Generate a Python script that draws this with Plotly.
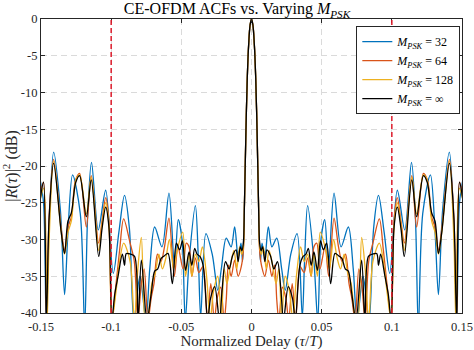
import plotly.graph_objects as go

# ---------------- data ----------------
series_names = ["<i>M</i><sub><i>PSK</i></sub> = 32",
                "<i>M</i><sub><i>PSK</i></sub> = 64",
                "<i>M</i><sub><i>PSK</i></sub> = 128",
                "<i>M</i><sub><i>PSK</i></sub> = ∞"]

m32_delay = [-0.1505, -0.1482, -0.1462, -0.1442, -0.141, -0.1362, -0.1332, -0.1308, -0.1275, -0.122,
             -0.1189, -0.1168, -0.114, -0.1092, -0.1039, -0.0985, -0.0945, -0.0905, -0.087, -0.0838,
             -0.0795, -0.0752, -0.0725, -0.069, -0.0638, -0.0588, -0.0548, -0.0522, -0.0495, -0.0472,
             -0.0445, -0.040, -0.0378, -0.0362, -0.0325, -0.028, -0.024, -0.0215, -0.018, -0.0145,
             -0.012, -0.0095, -0.0075, -0.0064, -0.0058, -0.005, -0.004, -0.003, -0.002, -0.001,
             0, 0.001, 0.002, 0.003, 0.004, 0.005, 0.0058, 0.0064, 0.0075, 0.0095,
             0.012, 0.0145, 0.018, 0.0215, 0.024, 0.028, 0.0325, 0.0362, 0.0378, 0.040,
             0.0445, 0.0472, 0.0495, 0.0522, 0.0548, 0.0588, 0.0638, 0.069, 0.0725, 0.0752,
             0.0795, 0.0838, 0.087, 0.0905, 0.0945, 0.0985, 0.1039, 0.1092, 0.114, 0.1168,
             0.1189, 0.122, 0.1275, 0.1308, 0.1332, 0.1362, 0.141, 0.1442, 0.1462, 0.1482, 0.1505]
m32_db = [-22, -25, -42, -28, -18.1, -26, -37.5, -29, -21.2, -26.5,
          -42, -27, -19.5, -28.7, -23.3, -34.6, -29, -24, -28.5, -41,
          -35, -41, -34, -28.3, -31, -23.7, -33.7, -27.3, -30, -41,
          -33, -25.4, -33, -40.5, -29.2, -32, -36.9, -34, -29.8, -31,
          -28.3, -32.5, -30.5, -33, -31, -25, -15.5, -8, -3.4, -0.8,
          0, -0.8, -3.4, -8, -15.5, -25, -31, -33, -30.5, -32.5,
          -28.3, -31, -29.8, -34, -36.9, -32, -29.2, -40.5, -33, -25.4,
          -33, -41, -30, -27.3, -33.7, -23.7, -31, -28.3, -34, -41,
          -35, -41, -28.5, -24, -29, -34.6, -23.3, -28.7, -19.5, -27,
          -42, -26.5, -21.2, -29, -37.5, -26, -18.1, -28, -42, -25, -22]

m64_delay = [-0.1505, -0.1482, -0.1462, -0.1442, -0.141, -0.1356, -0.1332, -0.1308, -0.1284, -0.1255,
             -0.1225, -0.1177, -0.1142, -0.1089, -0.1065, -0.1039, -0.1016, -0.0995, -0.0965, -0.094,
             -0.0911, -0.0865, -0.0835, -0.081, -0.0785, -0.0765, -0.0738, -0.0715, -0.0695, -0.067,
             -0.0645, -0.062, -0.0588, -0.055, -0.0524, -0.0488, -0.0465, -0.0445, -0.0425, -0.040,
             -0.0375, -0.0346, -0.0315, -0.029, -0.0265, -0.0245, -0.022, -0.0195, -0.018, -0.0165,
             -0.0145, -0.012, -0.0095, -0.0073, -0.0058, -0.005, -0.004, -0.003, -0.002, -0.001,
             0, 0.001, 0.002, 0.003, 0.004, 0.005, 0.0058, 0.0073, 0.0095, 0.012,
             0.0145, 0.0165, 0.018, 0.0195, 0.022, 0.0245, 0.0265, 0.029, 0.0315, 0.0346,
             0.0375, 0.040, 0.0425, 0.0445, 0.0465, 0.0488, 0.0524, 0.055, 0.0588, 0.062,
             0.0645, 0.067, 0.0695, 0.0715, 0.0738, 0.0765, 0.0785, 0.081, 0.0835, 0.0865,
             0.0911, 0.094, 0.0965, 0.0995, 0.1016, 0.1039, 0.1065, 0.1089, 0.1142, 0.1177,
             0.1225, 0.1255, 0.1284, 0.1308, 0.1332, 0.1356, 0.141, 0.1442, 0.1462, 0.1482, 0.1505]
m64_db = [-23.8, -22.2, -41, -27, -19.1, -28.5, -31.5, -28.3, -27, -22,
          -21, -28.3, -21.3, -30.5, -27.5, -24.3, -27.5, -41, -36, -31.5,
          -27.2, -30.5, -33, -41, -36, -34, -41, -38, -36, -32,
          -33, -31, -27.1, -35, -31, -34, -30.5, -31, -35, -32.5,
          -34.5, -33.7, -41, -36, -41, -38, -36.5, -41, -38.2, -33.5,
          -35, -32.8, -35, -33.7, -31.5, -25, -15.5, -8, -3.4, -0.8,
          0, -0.8, -3.4, -8, -15.5, -25, -31.5, -33.7, -35, -32.8,
          -35, -33.5, -38.2, -41, -36.5, -38, -41, -36, -41, -33.7,
          -34.5, -32.5, -35, -31, -30.5, -34, -31, -35, -27.1, -31,
          -33, -32, -36, -38, -41, -34, -36, -41, -33, -30.5,
          -27.2, -31.5, -36, -41, -27.5, -24.3, -27.5, -30.5, -21.3, -28.3,
          -21, -22, -27, -28.3, -31.5, -28.5, -19.1, -27, -41, -22.2, -23.8]

m128_delay = [-0.1505, -0.148, -0.1458, -0.1442, -0.141, -0.1356, -0.1332, -0.1308, -0.1284, -0.125,
              -0.1225, -0.1177, -0.1142, -0.1089, -0.1065, -0.1039, -0.1016, -0.0995, -0.0965, -0.094,
              -0.0911, -0.0865, -0.0835, -0.081, -0.0785, -0.0757, -0.0735, -0.071, -0.0685, -0.066,
              -0.0635, -0.061, -0.0585, -0.0555, -0.053, -0.049, -0.047, -0.0445, -0.0425, -0.040,
              -0.0375, -0.035, -0.032, -0.0295, -0.027, -0.024, -0.0215, -0.0195, -0.0175, -0.015,
              -0.0125, -0.0105, -0.0085, -0.007, -0.0058, -0.005, -0.004, -0.003, -0.002, -0.001,
              0, 0.001, 0.002, 0.003, 0.004, 0.005, 0.0058, 0.007, 0.0085, 0.0105,
              0.0125, 0.015, 0.0175, 0.0195, 0.0215, 0.024, 0.027, 0.0295, 0.032, 0.035,
              0.0375, 0.040, 0.0425, 0.0445, 0.047, 0.049, 0.053, 0.0555, 0.0585, 0.061,
              0.0635, 0.066, 0.0685, 0.071, 0.0735, 0.0757, 0.0785, 0.081, 0.0835, 0.0865,
              0.0911, 0.094, 0.0965, 0.0995, 0.1016, 0.1039, 0.1065, 0.1089, 0.1142, 0.1177,
              0.1225, 0.125, 0.1284, 0.1308, 0.1332, 0.1356, 0.141, 0.1442, 0.1458, 0.148, 0.1505]
m128_db = [-24.5, -23, -42, -30, -19.3, -29, -32, -29, -27.5, -21.8,
           -21.2, -26.5, -21.5, -31.5, -28, -25, -28, -41, -37, -33,
           -30.5, -33, -41, -34, -29.7, -41, -40, -36, -34.5, -32,
           -34, -32.5, -30, -34, -31.5, -29, -35, -32, -35, -32,
           -33, -31, -35, -41, -37, -35, -41, -34, -36, -33.5,
           -31.5, -34, -31, -32, -31, -25, -15.5, -8, -3.4, -0.8,
           0, -0.8, -3.4, -8, -15.5, -25, -31, -32, -31, -34,
           -31.5, -33.5, -36, -34, -41, -35, -37, -41, -35, -31,
           -33, -32, -35, -32, -35, -29, -31.5, -34, -30, -32.5,
           -34, -32, -34.5, -36, -40, -41, -29.7, -34, -41, -33,
           -30.5, -33, -37, -41, -28, -25, -28, -31.5, -21.5, -26.5,
           -21.2, -21.8, -27.5, -29, -32, -29, -19.3, -30, -42, -23, -24.5]

minf_delay = [-0.1505, -0.1482, -0.1462, -0.1442, -0.141, -0.1356, -0.1332, -0.1308, -0.1284, -0.1252,
              -0.1225, -0.1177, -0.1142, -0.1089, -0.1065, -0.1039, -0.1016, -0.0995, -0.0975, -0.0951,
              -0.092, -0.0905, -0.0892, -0.0862, -0.0833, -0.0808, -0.0785, -0.0745, -0.0714, -0.069,
              -0.0668, -0.0645, -0.062, -0.0595, -0.0564, -0.0535, -0.0512, -0.0492, -0.047, -0.0445,
              -0.0425, -0.0405, -0.0388, -0.0368, -0.0345, -0.0312, -0.0292, -0.0262, -0.0228, -0.021,
              -0.0185, -0.016, -0.0135, -0.011, -0.0095, -0.008, -0.0068, -0.0058, -0.005, -0.004,
              -0.003, -0.002, -0.001,
              0, 0.001, 0.002, 0.003, 0.004, 0.005, 0.0058, 0.0068, 0.008, 0.0095,
              0.011, 0.0135, 0.016, 0.0185, 0.021, 0.0228, 0.0262, 0.0292, 0.0312, 0.0345,
              0.0368, 0.0388, 0.0405, 0.0425, 0.0445, 0.047, 0.0492, 0.0512, 0.0535, 0.0564,
              0.0595, 0.062, 0.0645, 0.0668, 0.069, 0.0714, 0.0745, 0.0785, 0.0808, 0.0833,
              0.0862, 0.0892, 0.0905, 0.092, 0.0951, 0.0975, 0.0995, 0.1016, 0.1039, 0.1065,
              0.1089, 0.1142, 0.1177, 0.1225, 0.1252, 0.1284, 0.1308, 0.1332, 0.1356, 0.141,
              0.1442, 0.1462, 0.1482, 0.1505]
minf_db = [-24.5, -22.2, -41, -27, -19.6, -29, -31.9, -27.5, -26.4, -22.2,
           -21.3, -26.9, -21.9, -32.3, -28.5, -25.6, -28.3, -41, -37.5, -35,
           -32, -33.5, -31.9, -32, -32.3, -41, -32.8, -41, -37.3, -34.3,
           -34, -32.6, -32.2, -31.9, -36, -30.5, -31.4, -30.2, -34.2, -31.7,
           -33.5, -31.2, -32, -32.3, -33.5, -41, -38, -36.4, -41, -37,
           -33, -34, -32.2, -31.4, -33, -31, -31.5, -30.5, -25, -15.5,
           -8, -3.4, -0.8,
           0, -0.8, -3.4, -8, -15.5, -25, -30.5, -31.5, -31, -33,
           -31.4, -32.2, -34, -33, -37, -41, -36.4, -38, -41, -33.5,
           -32.3, -32, -31.2, -33.5, -31.7, -34.2, -30.2, -31.4, -30.5, -36,
           -31.9, -32.2, -32.6, -34, -34.3, -37.3, -41, -32.8, -41, -32.3,
           -32, -31.9, -33.5, -32, -35, -37.5, -41, -28.3, -25.6, -28.5,
           -32.3, -21.9, -26.9, -21.3, -22.2, -26.4, -27.5, -31.9, -29, -19.6,
           -27, -41, -22.2, -24.5]

series_delays = [m32_delay, m64_delay, m128_delay, minf_delay]
series_dbs = [m32_db, m64_db, m128_db, minf_db]
series_colors = ["#0072BD", "#D95319", "#EDB120", "#000000"]

band_edges = [-0.1, 0.1]

x_tick_vals = [-0.15, -0.1, -0.05, 0, 0.05, 0.1, 0.15]
x_tick_text = ["-0.15", "-0.1", "-0.05", "0", "0.05", "0.1", "0.15"]
y_tick_vals = [0, -5, -10, -15, -20, -25, -30, -35, -40]
y_tick_text = ["0", "-5", "-10", "-15", "-20", "-25", "-30", "-35", "-40"]

# ---------------- figure ----------------
FONT = "Liberation Serif, DejaVu Serif, serif"
fig = go.Figure()
for name, xs, ys, col in zip(series_names, series_delays, series_dbs, series_colors):
    fig.add_trace(go.Scatter(x=xs, y=ys, mode="lines", name=name,
                             line=dict(color=col, width=1.3, shape="spline", smoothing=0.9)))

for xe in band_edges:
    fig.add_vline(x=xe, line=dict(color="#DD1C2C", width=1.5, dash="5px,3px"), layer="above")

axis_common = dict(showline=True, linecolor="#262626", linewidth=1, mirror="ticks",
                   ticks="inside", ticklen=4, tickcolor="#262626",
                   showgrid=True, gridcolor="#DADADA", griddash="6px,4px", gridwidth=1,
                   zeroline=False, automargin=False,
                   tickfont=dict(family=FONT, size=12.5, color="#262626"))

fig.update_layout(
    width=474, height=350,
    margin=dict(l=41, r=12, t=19, b=37),
    paper_bgcolor="white", plot_bgcolor="white",
    title=dict(text="CE-OFDM ACFs vs. Varying <i>M</i><sub><i>PSK</i></sub>",
               x=0.5, xanchor="center", y=0.975, yanchor="middle",
               font=dict(family=FONT, size=16, color="#000000")),
    xaxis=dict(range=[-0.15, 0.15], tickvals=x_tick_vals, ticktext=x_tick_text,
               ticklabelstandoff=2,
               title=dict(text="Normalized Delay (<i>τ</i>/<i>T</i>)", standoff=4,
                          font=dict(family=FONT, size=15, color="#262626")),
               **axis_common),
    yaxis=dict(range=[-40, 0], tickvals=y_tick_vals, ticktext=y_tick_text,
               title=dict(text="|<i>R</i>(<i>τ</i>)|<sup>2</sup> (dB)", standoff=5,
                          font=dict(family=FONT, size=16, color="#262626")),
               **axis_common),
    legend=dict(x=0.996, y=0.976, xanchor="right", yanchor="top",
                bgcolor="white", bordercolor="#262626", borderwidth=1,
                font=dict(family=FONT, size=12, color="#000000"),
                itemwidth=30, tracegroupgap=0),
    showlegend=True,
)

fig.write_html("out.html")
